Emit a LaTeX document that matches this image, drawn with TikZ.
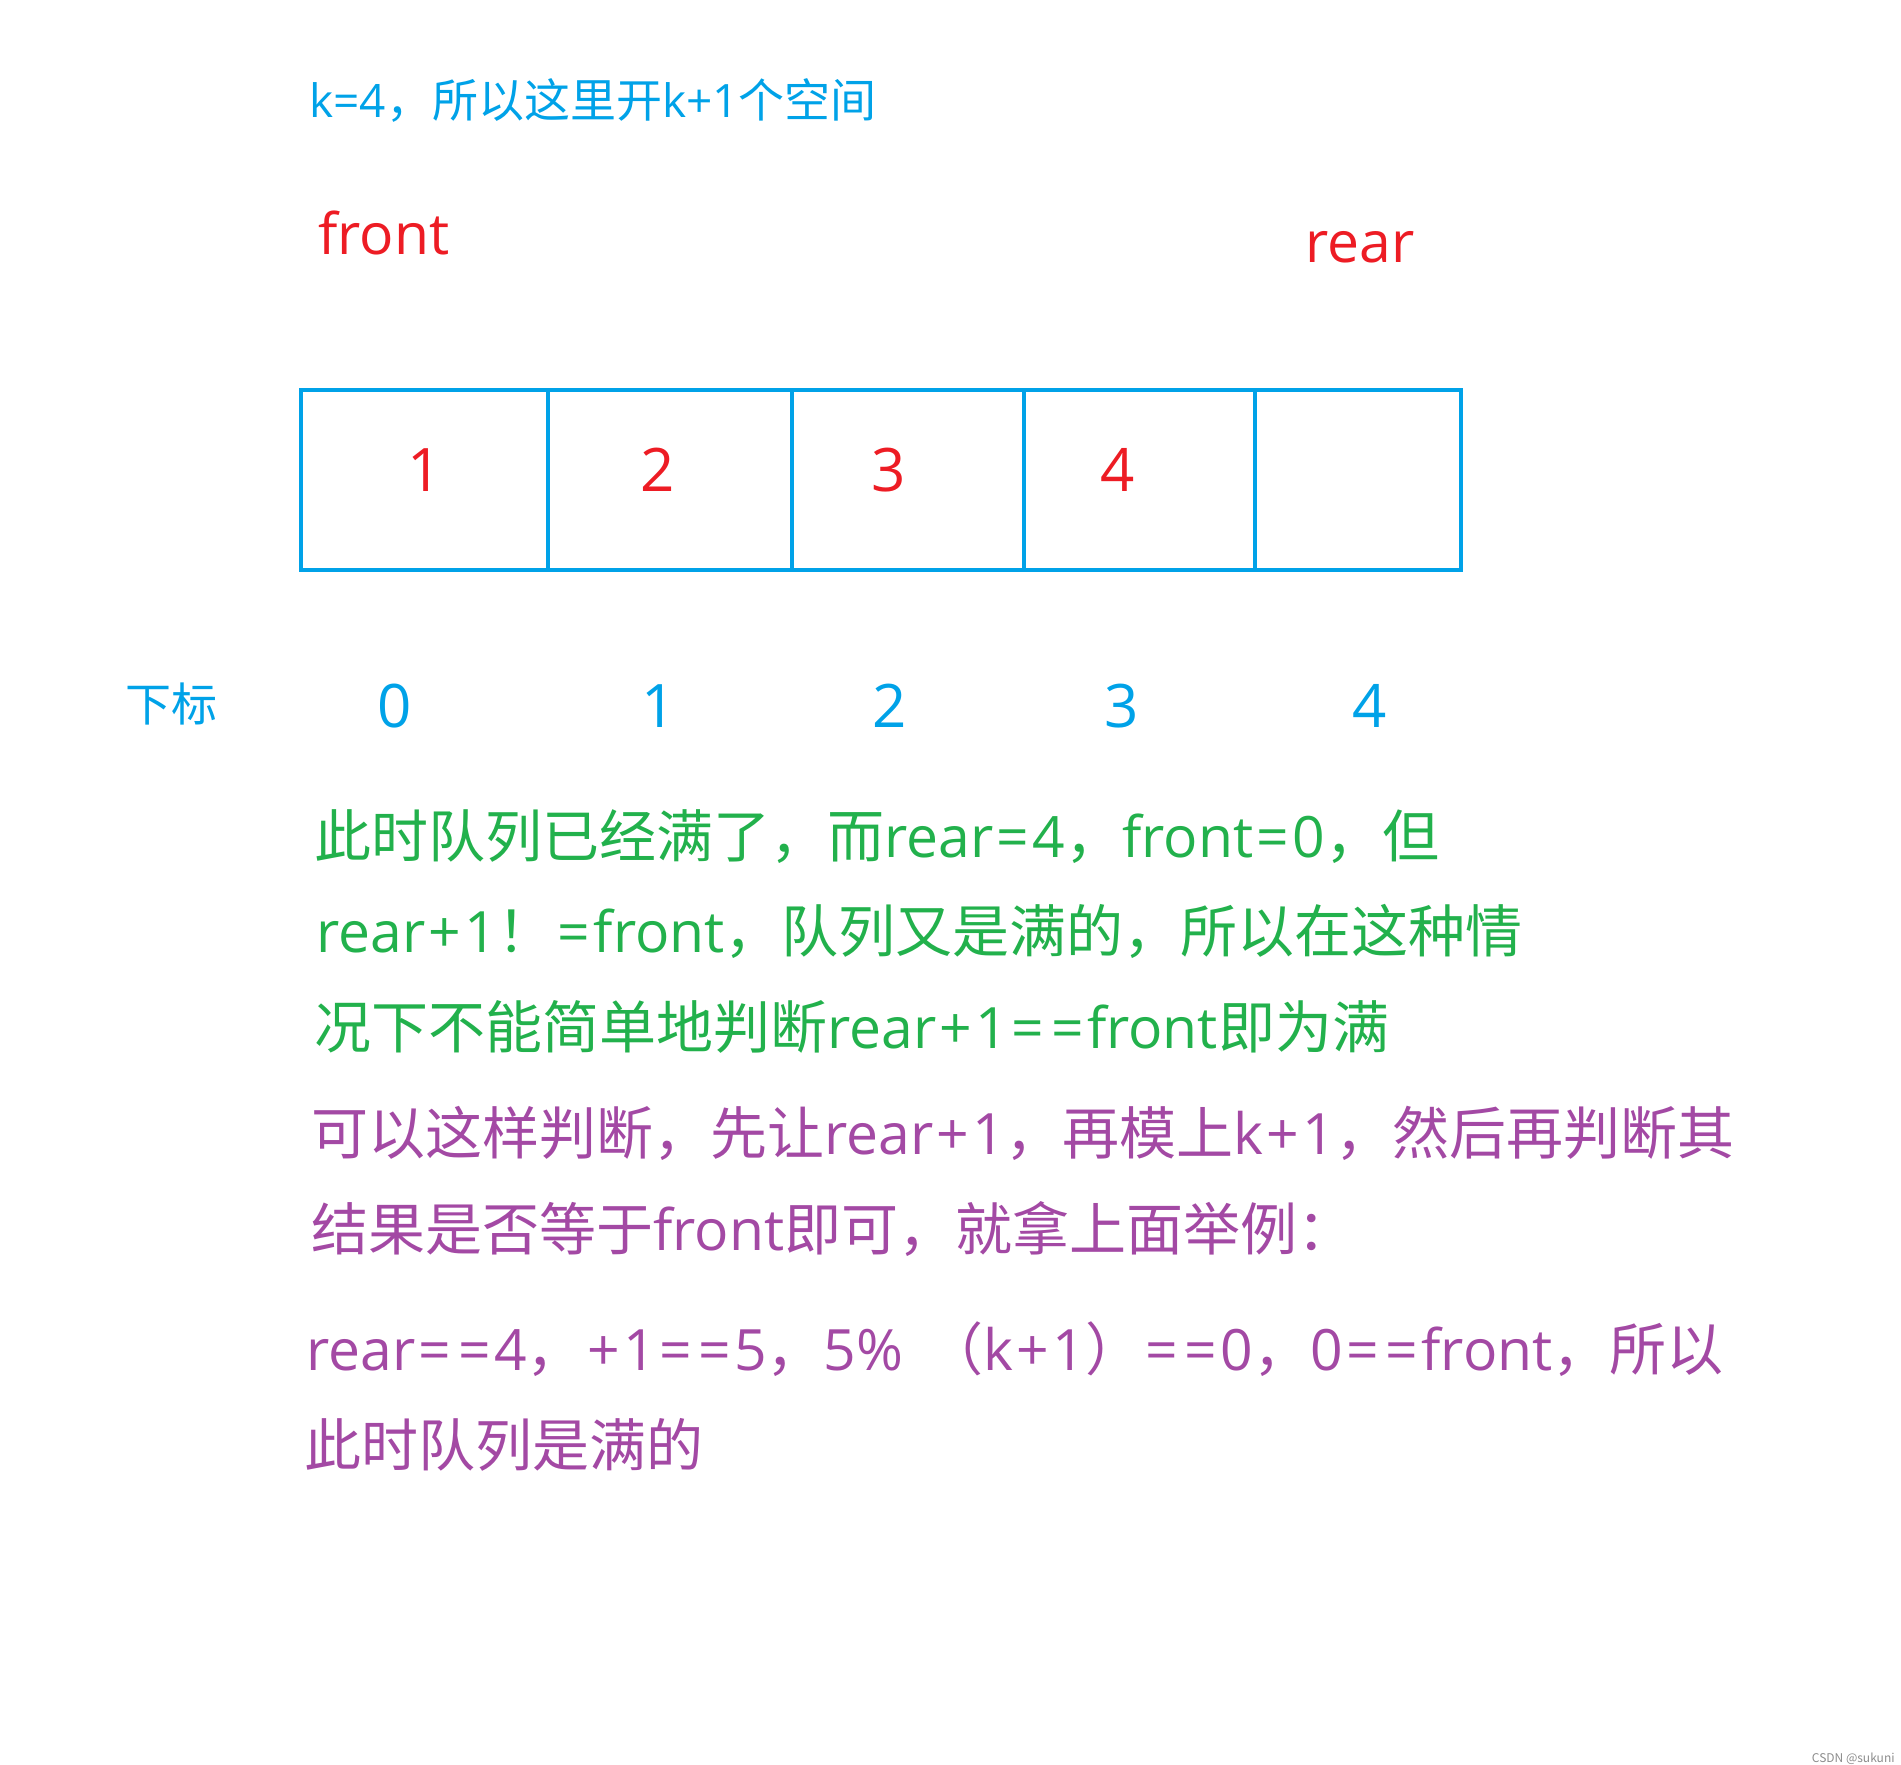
\documentclass[tikz,border=0pt]{standalone}
\usepackage{fontspec}
\setmainfont{Noto Sans CJK SC}
\newfontfamily\engfont{Open Sans}
\newcommand\eng[1]{{\engfont #1}}
% wider = and + as in the original font
\newcommand\eqs{\makebox[0.69em]{=}}
\newcommand\pls{\makebox[0.69em]{+}}
\definecolor{paintblue}{RGB}{0,162,232}
\definecolor{paintred}{RGB}{237,28,36}
\definecolor{paintgreen}{RGB}{34,177,76}
\definecolor{paintpurple}{RGB}{163,73,164}

\tikzset{
  txt/.style={inner sep=0pt, anchor=base west},
  hint/.style={txt, text=paintblue, font=\fontsize{23}{28}\selectfont},
  ptr/.style={txt, text=paintred, font=\engfont\fontsize{28.5}{34}\selectfont},
  cell/.style={draw=paintblue, line width=2pt, minimum height=90pt, inner sep=0pt},
  val/.style={inner sep=0pt, anchor=base, text=paintred, font=\engfont\fontsize{30}{36}\selectfont},
  idx/.style={val, text=paintblue},
  say/.style={txt, font=\fontsize{28.5}{34}\selectfont},
}

\begin{document}
\begin{tikzpicture}[x=0.5pt,y=-0.5pt]
  \useasboundingbox (0,0) rectangle (1901,1765);
  \node[hint] (title) at (309,118) {\eng{k=4}，所以这里开\eng{k+1}个空间};
  \node[ptr] (front) at (318,255) {front};
  \node[ptr] (rear) at (1305,263) {rear};
  % queue cells
  \foreach \i/\l/\r in {0/301/548, 1/548/792, 2/792/1024, 3/1024/1255, 4/1255/1461}
    \node[cell, minimum width={(\r-\l)*0.5pt}] (c\i) at ({(\l+\r)/2},480) {};
  \foreach \i/\x in {1/425, 2/658, 3/889, 4/1118}
    \node[val] (v\i) at (\x,492) {\i};
  % subscripts
  \node[hint] (sub) at (125,721) {下标};
  \foreach \i/\x in {0/395, 1/659, 2/890, 3/1122, 4/1370}
    \node[idx] (i\i) at (\x,727) {\i};
  % green notes
  \node[say, text=paintgreen] (g1) at (314,857) {此时队列已经满了，而\eng{rear\eqs4}，\eng{front\eqs0}，但};
  \node[say, text=paintgreen] (g2) at (316,952) {\eng{rear\pls1}！\eng{\eqs front}，队列又是满的，所以在这种情};
  \node[say, text=paintgreen] (g3) at (314,1048) {况下不能简单地判断\eng{rear\pls1\eqs\eqs front}即为满};
  % purple notes
  \node[say, text=paintpurple] (p1) at (311,1154) {可以这样判断，先让\eng{rear\pls1}，再模上\eng{k\pls1}，然后再判断其};
  \node[say, text=paintpurple] (p2) at (311,1250) {结果是否等于\eng{front}即可，就拿上面举例：};
  \node[say, text=paintpurple] (p3) at (306,1370) {\eng{rear\eqs\eqs4}，\eng{\pls1\eqs\eqs5}，\eng{5\%}\hspace{0.4em}（\eng{k\pls1}）\eng{\eqs\eqs0}，\eng{0\eqs\eqs front}，所以};
  \node[say, text=paintpurple] (p4) at (304,1466) {此时队列是满的};
  \node[inner sep=0pt, anchor=base east, text=black!45, font=\fontsize{6}{7}\selectfont] (mark) at (1895,1762) {CSDN @sukuni};
\end{tikzpicture}
\end{document}
